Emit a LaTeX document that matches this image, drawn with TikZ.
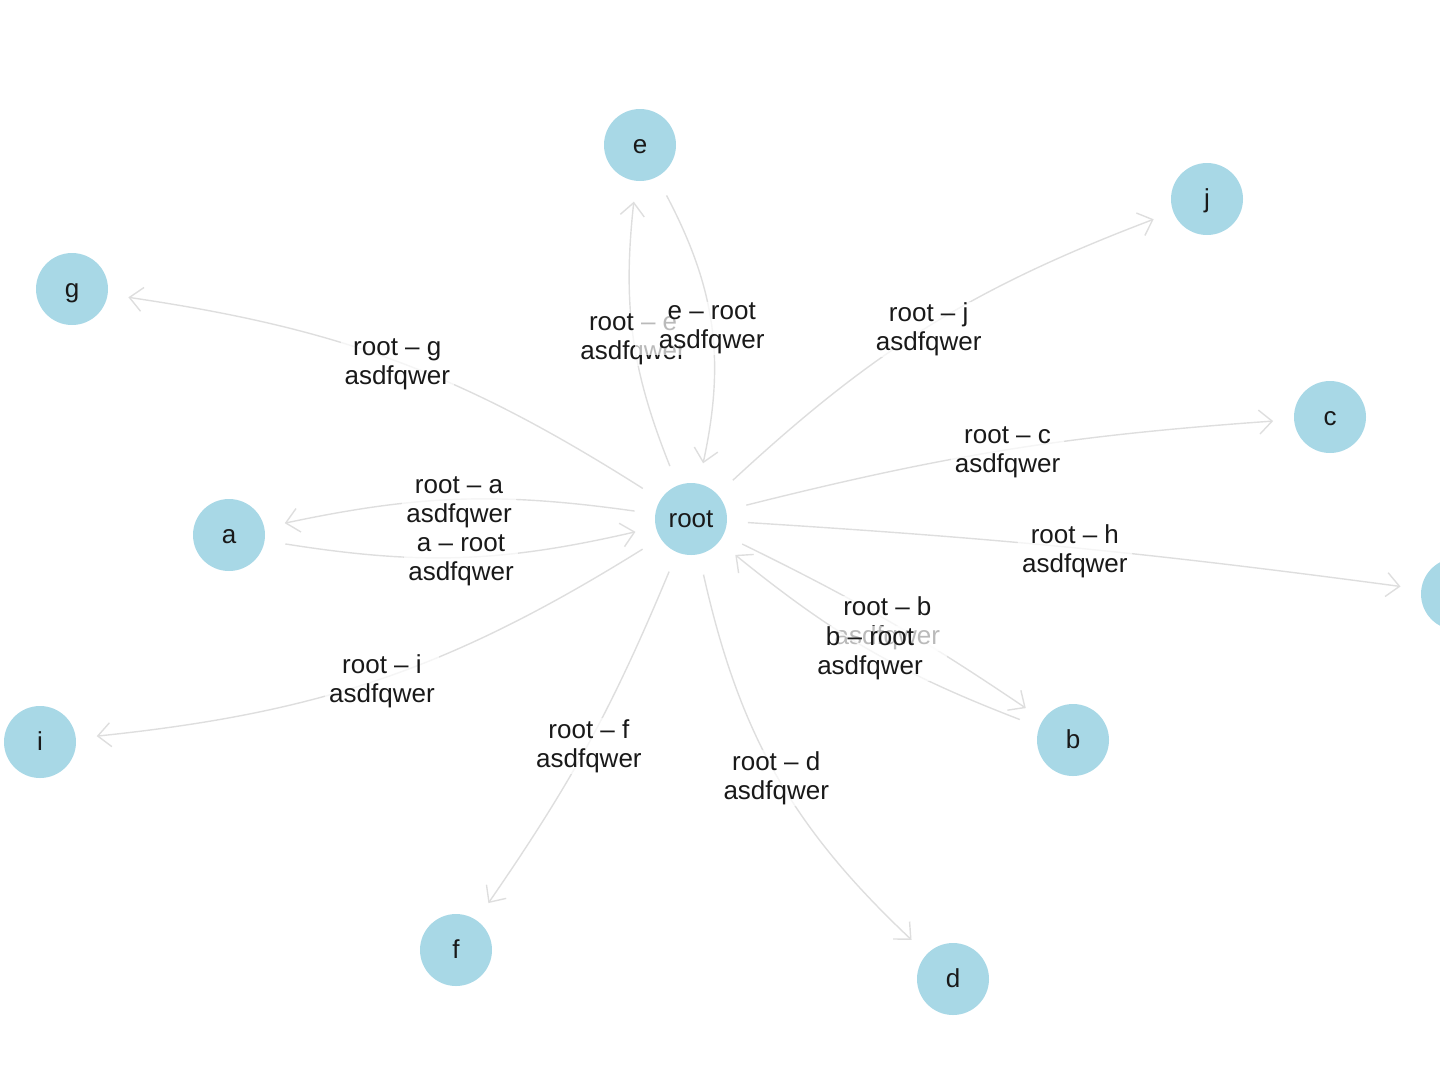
\documentclass[tikz,border=0pt]{standalone}
\usepackage{fontspec}
\setmainfont{Liberation Sans}
\usetikzlibrary{arrows.meta}
\definecolor{nodeblue}{RGB}{168,216,230}
\definecolor{edgegray}{RGB}{222,222,222}
\definecolor{txt}{RGB}{25,25,25}
\begin{document}
\begin{tikzpicture}[x=1pt,y=-1pt,
  vertex/.style={circle,fill=nodeblue,minimum size=72pt,inner sep=0pt,outer sep=21pt,text height=18pt,text depth=1pt,font=\fontsize{26}{29}\selectfont,text=txt},
  link/.style={draw=edgegray,line width=1.4pt,-{Straight Barb[length=13pt,width=24pt]}},
  elabel/.style={midway,yshift=-3pt,align=center,font=\fontsize{26}{29}\selectfont,text=txt,fill=white,fill opacity=0.7,text opacity=1,inner xsep=4pt,inner ysep=1pt},
  widelabel/.style={elabel,inner xsep=24pt}]
\path[use as bounding box,clip] (0,0) rectangle (1440,1080);
\node[vertex] (root) at (691,519) {root};
\node[vertex] (e) at (640,145) {e};
\node[vertex] (j) at (1207,199) {j};
\node[vertex] (g) at (72,289) {g};
\node[vertex] (c) at (1330,417) {c};
\node[vertex] (a) at (229,535) {a};
\node[vertex] (h) at (1457,594) {h};
\node[vertex] (b) at (1073,740) {b};
\node[vertex] (i) at (40,742) {i};
\node[vertex] (f) at (456,950) {f};
\node[vertex] (d) at (953,979) {d};
\draw[link] (root) to[bend right=12] node[elabel]{root – g\\asdfqwer} (g);
\draw[link] (root) to[bend left=11] node[elabel]{root – j\\asdfqwer} (j);
\draw[link] (root) to[bend left=5] node[elabel]{root – c\\asdfqwer} (c);
\draw[link] (root) to[bend left=2] node[elabel]{root – h\\asdfqwer} (h);
\draw[link] (root) to[bend right=17] node[elabel]{root – d\\asdfqwer} (d);
\draw[link] (root) to[bend left=6] node[elabel]{root – f\\asdfqwer} (f);
\draw[link] (root) to[bend left=13] node[elabel]{root – i\\asdfqwer} (i);
\draw[link] (root) to[bend right=10] node[elabel]{root – a\\asdfqwer} (a);
\draw[link] (a) to[bend right=11] node[elabel]{a – root\\asdfqwer} (root);
\draw[link] (root) to[bend left=14] node[elabel]{root – e\\asdfqwer} (e);
\draw[link] (e) to[bend left=20] node[widelabel]{e – root\\asdfqwer} (root);
\draw[link] (root) to[bend left=4] node[elabel]{root – b\\asdfqwer} (b);
\draw[link] (b) to[bend left=9] node[widelabel]{b – root\\asdfqwer} (root);
\end{tikzpicture}
\end{document}
